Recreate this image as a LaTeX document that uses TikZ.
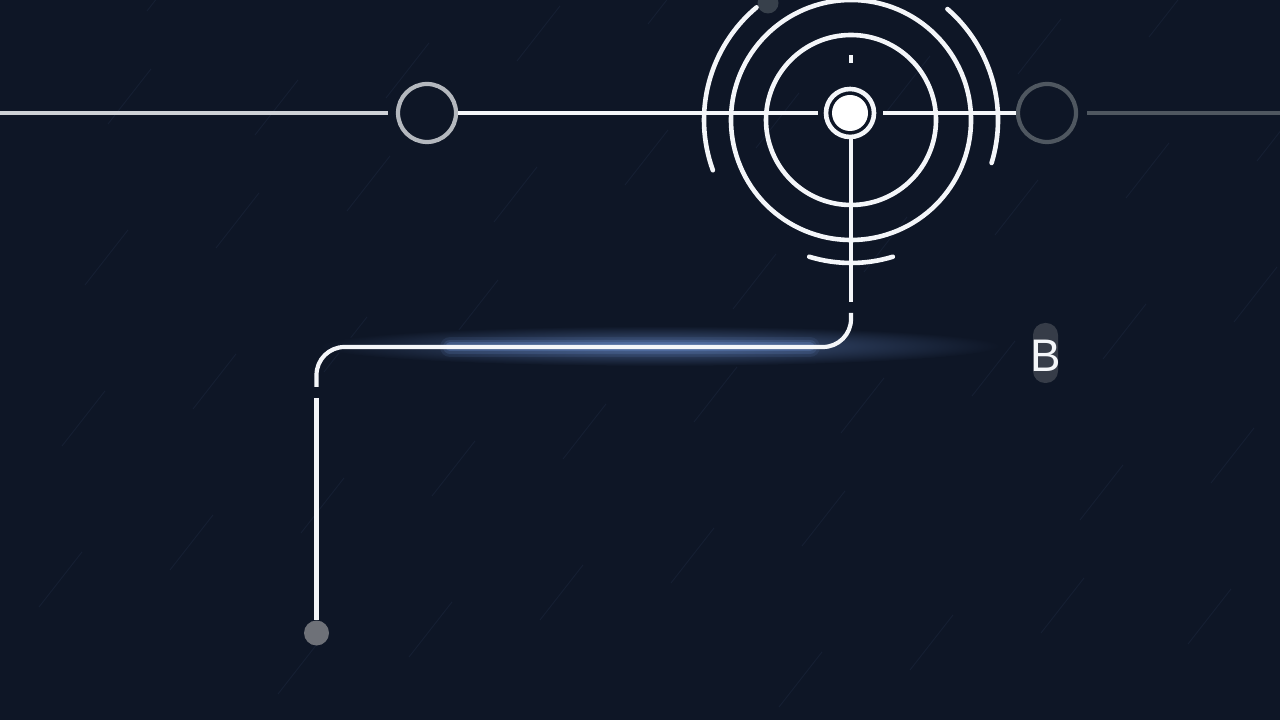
\documentclass[tikz,border=0pt]{standalone}
\usepackage{fontspec}
\setsansfont{Liberation Sans}
\usepackage{tikz}
\usetikzlibrary{calc,positioning}
\usepackage{xcolor}
\definecolor{BgNavy}{HTML}{0E1626}
\definecolor{LineWhite}{HTML}{F4F6F9}
\definecolor{RingGray}{HTML}{B4B8BE}
\definecolor{DimGray}{HTML}{4F5760}
\definecolor{DotGray}{HTML}{6E7178}
\definecolor{DotDark}{HTML}{37404B}
\definecolor{PillGray}{HTML}{444A54}
\definecolor{GlowBlue}{HTML}{6F94D6}
\definecolor{StreakBlue}{HTML}{24304A}
\tikzset{
  wire/.style={LineWhite,line width=0.042cm},
  ring/.style={LineWhite,line width=0.046cm},
}

\begin{document}
\begin{tikzpicture}
   \useasboundingbox[fill=BgNavy] (0,0) rectangle (12.8,-7.2);
   \begin{scope}
   \clip (0,0) rectangle (12.8,-7.2);
   \foreach \i in {1,...,45} {
     \pgfmathsetmacro\sx{mod(\i*347,1280)/100}
     \pgfmathsetmacro\sy{mod(\i*211,720)/100}
     \draw[StreakBlue,line width=0.25pt,opacity=0.35] (\sx,-\sy) -- ++(52:0.7);
   }
   \end{scope}

   % glow under the lit wire
   \shade[inner color=GlowBlue!55!BgNavy,outer color=BgNavy] (6.6,-3.46) ellipse (3.4 and 0.2);
   \foreach \w/\o in {0.20/0.10,0.14/0.15,0.09/0.25} {
     \draw[GlowBlue,line width=\w cm,opacity=\o,line cap=round] (4.5,-3.47) -- (8.1,-3.47);
   }

   \node[circle,fill=white,inner sep=0,minimum size=0.36cm] (core) at (8.50,-1.13) {};
   \node[circle,draw=RingGray,line width=0.042cm,inner sep=0,minimum size=0.58cm] (left) at (4.27,-1.13) {};
   \node[circle,draw=DimGray,line width=0.042cm,inner sep=0,minimum size=0.58cm] (right) at (10.47,-1.13) {};
   \node[circle,fill=DotGray,inner sep=0,minimum size=0.25cm] (end) at (3.165,-6.33) {};
   \node[circle,fill=DotDark,inner sep=0,minimum size=0.21cm] (top) at (7.68,-0.03) {};

   \node[fill=PillGray,rounded corners=0.12cm,inner sep=0,minimum width=0.25cm,
     minimum height=0.6cm,opacity=0.75] (pill) at (10.455,-3.53) {};
   \node[LineWhite,font=\sffamily\fontsize{13}{13}\selectfont,inner sep=0] (lab) at (10.46,-3.56) {B};

   \coordinate (c) at (8.51,-1.20);
   \coordinate (w0) at (0,-1.13);
   \coordinate (w1) at (3.88,-1.13);
   \coordinate (w2) at ($(core)+(-0.32,0)$);
   \coordinate (w3) at ($(core)+(0.33,0)$);
   \coordinate (r0) at (12.8,-1.13);
   \coordinate (s0) at (8.51,-1.39);
   \coordinate (s1) at (8.51,-3.02);
   \coordinate (k0) at (8.51,-3.13);
   \coordinate (k1) at (8.51,-3.47);
   \coordinate (k2) at (3.165,-3.47);
   \coordinate (k3) at (3.165,-3.87);
   \coordinate (d0) at (3.165,-3.98);

   % target
   \draw[ring] (core) circle (0.24);
   \draw[ring] (c) circle (0.85);
   \draw[ring] (c) circle (1.20);
   \draw[ring,line cap=round] ($(c)+(130:1.47)$) arc[start angle=130,end angle=200,radius=1.47];
   \draw[ring,line cap=round] ($(c)+(-17:1.47)$) arc[start angle=-17,end angle=49,radius=1.47];
   \draw[ring,line cap=round] ($(c)+(253:1.43)$) arc[start angle=253,end angle=287,radius=1.43];
   \draw[ring] ($(c)+(0,0.57)$) -- ($(c)+(0,0.65)$);

   \draw[wire,RingGray!60!LineWhite] (w0) -- (w1);
   \draw[wire] (left) -- (w2);
   \draw[wire] (w3) -- (right);
   \draw[DimGray,line width=0.045cm] (right) ++(0.4,0) -- (r0);
   \draw[wire] (s0) -- (s1);
   \draw[wire,rounded corners=0.28cm] (k0) -- (k1) -- (k2) -- (k3);
   \draw[wire] (d0) -- (end);
\end{tikzpicture}
\end{document}
